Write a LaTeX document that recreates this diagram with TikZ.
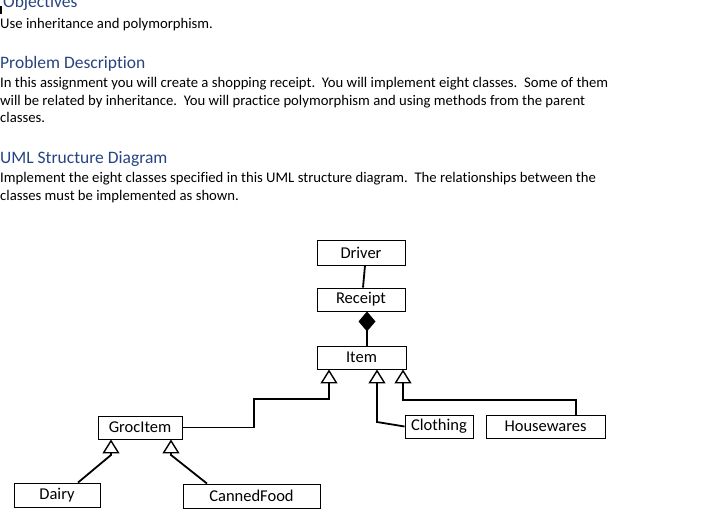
\documentclass[tikz,border=0pt]{standalone}
\usepackage{fontspec}
\setmainfont{Carlito}[Ligatures=NoCommon]
\usetikzlibrary{arrows.meta}
\definecolor{headblue}{RGB}{38,68,128}
\begin{document}
\begin{tikzpicture}[x=1pt,y=-1pt,
  txt/.style={anchor=base west, inner sep=0pt, font=\fontsize{14.7}{17}\selectfont},
  head/.style={anchor=base west, inner sep=0pt, font=\fontsize{17.5}{20}\selectfont, text=headblue},
  cls/.style={draw, line width=0.9pt, inner sep=0pt, font=\fontsize{16.5}{18}\selectfont},
  link/.style={line width=1.8pt},
  inh/.style={link, -{Triangle[open, length=14pt, width=17pt, line width=1.4pt]}},
  comp/.style={link, {Diamond[length=20pt, width=17pt]}-},
]
\useasboundingbox (0,0) rectangle (719,514);
% text cursor
\draw[line width=1.6pt] (1,6) -- (1,14);
% text
\node[head] (h1) at (3,8) {Objectives};
\node[txt] (t1) at (0,28) {Use inheritance and polymorphism.};
\node[head] (h2) at (0,68) {Problem Description};
\node[txt] (t2) at (0,87) {In this assignment you will create a shopping receipt.\ \ You will implement eight classes.\ \ Some of them};
\node[txt] (t3) at (0,105) {will be related by inheritance.\ \ You will practice polymorphism and using methods from the parent};
\node[txt] (t4) at (0,122) {classes.};
\node[head] (h3) at (0,163) {UML Structure Diagram};
\node[txt] (t5) at (0,182) {Implement the eight classes specified in this UML structure diagram.\ \ The relationships between the};
\node[txt] (t6) at (0,200) {classes must be implemented as shown.};
% classes
\node[cls, minimum width=88pt, minimum height=25pt] (Driver) at (361,252.5) {Driver};
\node[cls, minimum width=88pt, minimum height=23pt] (Receipt) at (361,299.5) {Receipt};
\node[cls, minimum width=89pt, minimum height=23pt] (Item) at (361.5,357.5) {Item};
\node[cls, minimum width=84pt, minimum height=23pt] (GrocItem) at (140,427.5) {GrocItem};
\node[cls, minimum width=68pt, minimum height=23pt] (Clothing) at (439,426.5) {Clothing};
\node[cls, minimum width=119pt, minimum height=23pt] (Housewares) at (545.5,426.5) {Housewares};
\node[cls, minimum width=86pt, minimum height=24pt] (Dairy) at (57,495) {Dairy};
\node[cls, minimum width=137pt, minimum height=24pt] (CannedFood) at (251.5,496) {CannedFood};
% helper coordinates
\coordinate (dr1) at (365,0);
\coordinate (dr2) at (363,0);
\coordinate (cx) at (367,0);
\coordinate (g1) at (254,399);
\coordinate (gx) at (329,0);
\coordinate (c1) at (377,422);
\coordinate (hw1) at (576,400);
\coordinate (hw2) at (403,400);
\coordinate (da) at (78,0);
\coordinate (db) at (111,455);
\coordinate (ca) at (207,0);
\coordinate (cb) at (171,455);
% connectors
\draw[link] (Driver.south -| dr1) -- (Receipt.north -| dr2);
\draw[comp] (Receipt.south -| cx) -- (Item.north -| cx);
\draw[inh] (GrocItem.east) -| (g1) -| (Item.south -| gx);
\draw[inh] (Clothing.west) -- (c1) -- (Item.south -| c1);
\draw[inh] (Housewares.north -| hw1) -- (hw1) -- (hw2) -- (Item.south -| hw2);
\draw[inh] (Dairy.north -| da) -- (db) -- (GrocItem.south -| db);
\draw[inh] (CannedFood.north -| ca) -- (cb) -- (GrocItem.south -| cb);
\end{tikzpicture}
\end{document}
